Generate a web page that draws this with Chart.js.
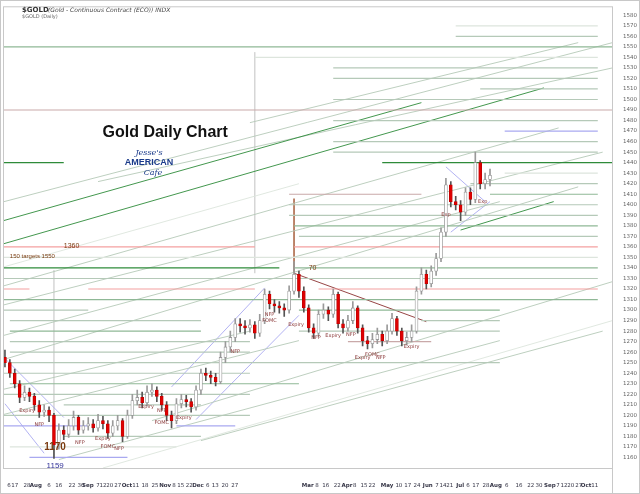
<!DOCTYPE html>
<html><head><meta charset="utf-8">
<script src="https://cdn.jsdelivr.net/npm/chart.js@4.4.0/dist/chart.umd.min.js"></script>
<style>html,body{margin:0;padding:0;background:#fff}#wrap{width:640px;height:494px}</style>
</head><body><div id="wrap"><canvas id="c" width="640" height="494"></canvas></div>
<script>
const closes=[1250,1240,1230,1217,1222,1218,1210,1203,1205,1200,1172,1186,1182,1190,1198,1186,1190,1192,1188,1195,1192,1183,1190,1195,1180,1200,1214,1217,1212,1222,1224,1218,1210,1200,1195,1211,1215,1213,1208,1224,1240,1238,1236,1232,1255,1265,1274,1287,1285,1283,1286,1278,1290,1315,1306,1304,1302,1300,1318,1334,1318,1302,1283,1278,1296,1300,1296,1315,1287,1283,1290,1302,1283,1271,1268,1272,1277,1271,1280,1292,1280,1271,1274,1280,1318,1334,1325,1337,1349,1374,1419,1403,1400,1393,1412,1405,1440,1420,1424,1428];
const highs=[1262,1253,1244,1233,1228,1226,1221,1214,1210,1208,1202,1192,1190,1196,1204,1200,1195,1198,1196,1201,1199,1195,1195,1200,1197,1205,1220,1224,1222,1228,1230,1227,1221,1213,1204,1216,1220,1219,1216,1228,1244,1245,1242,1240,1260,1270,1280,1292,1292,1290,1291,1289,1296,1320,1318,1310,1308,1306,1323,1346,1337,1322,1305,1287,1300,1306,1303,1320,1317,1291,1295,1308,1304,1286,1275,1278,1283,1280,1286,1297,1294,1283,1279,1286,1322,1340,1338,1342,1354,1378,1425,1422,1408,1404,1416,1416,1450,1442,1430,1434];
const lows=[1246,1236,1226,1212,1214,1213,1205,1198,1199,1194,1159,1168,1177,1179,1186,1182,1183,1186,1184,1185,1187,1178,1180,1186,1175,1178,1197,1210,1207,1209,1218,1213,1205,1195,1188,1192,1207,1208,1203,1205,1220,1233,1230,1228,1230,1250,1260,1270,1279,1277,1279,1273,1275,1287,1301,1298,1297,1294,1297,1315,1312,1298,1279,1273,1275,1292,1290,1293,1283,1278,1280,1287,1278,1266,1263,1264,1268,1266,1268,1277,1276,1266,1267,1270,1278,1315,1320,1322,1333,1346,1370,1398,1395,1385,1390,1400,1402,1415,1415,1418];
const firstOpen=1255;
const yTicks=[1160,1170,1180,1190,1200,1210,1220,1230,1240,1250,1260,1270,1280,1290,1300,1310,1320,1330,1340,1350,1360,1370,1380,1390,1400,1410,1420,1430,1440,1450,1460,1470,1480,1490,1500,1510,1520,1530,1540,1550,1560,1570,1580];
const xTickPos=[0.8,2,4.5,6.3,9,11,13.7,15.5,16.9,19,20,21.4,23,24.9,26.7,28.6,30.6,32.7,34.5,35.9,37.6,39.4,41.4,42.9,44.9,46.9,61.8,63.7,65.5,67.8,69.8,71.4,73.3,74.9,78,80.4,82.2,84.1,86.3,88.2,89.4,90.8,92.9,94.5,96.1,98.2,100.2,102.4,104.9,107.3,109,111.2,112.9,114.1,115.5,117.1,118.6,120.4];
const xTickLabels=['6','17','28','Aug','6','16','22','30','Sep','7','12','20','27','Oct','11','18','25','Nov','8','15','22','Dec','6','13','20','27','Mar','8','16','22','Apr','8','15','22','May','10','17','24','Jun','7','14','21','Jul','6','17','28','Aug','6','16','22','30','Sep','7','12','20','27','Oct','11'];
const hLines=[[1570,92,121,'lt'],[1560,92,121,'gg'],[1550,-1,124,'g'],[1540,51,121,'lt'],[1530,67,121,'gg'],[1520,67,121,'gg'],[1510,97,121,'gg'],[1500,67,121,'gg'],[1490,-1,124,'br'],[1480,67,121,'gg'],[1470,102,121,'bl'],[1460,67,121,'gg'],[1450,67,121,'gg'],[1440,-1,12,'dg'],[1440,77,124,'dg'],[1430,102,121,'lt'],[1420,95,121,'gg'],[1410,58,85,'br'],[1410,99,121,'g'],[1400,58,121,'gg'],[1390,58,121,'gg'],[1380,59,121,'g'],[1370,60,121,'gg'],[1360,-1,51,'rd'],[1360,59,121,'rd'],[1350,-1,121,'lt'],[1340,-1,56,'dg'],[1340,59,121,'g'],[1330,-1,121,'gg'],[1320,-1,5,'rd'],[1320,17,51,'rd'],[1320,64,121,'rd'],[1310,-1,121,'g'],[1300,-1,17,'gg'],[1300,60,101,'g'],[1290,1,40,'gg'],[1290,85,101,'gg'],[1280,1,40,'g'],[1280,60,101,'gg'],[1270,1,50,'gg'],[1270,70,87,'br'],[1260,1,50,'gg'],[1250,1,101,'gg'],[1240,-1,50,'gg'],[1230,1,60,'g'],[1220,-1,50,'gg'],[1210,12,40,'gg'],[1200,-1,50,'gg'],[1190,-1,17,'bl'],[1190,35,47,'bl'],[1180,12,40,'gg'],[1170,1,35,'lt'],[1160,5,25,'bl']];
const diagLines=[[-1,1362,110,1511,'dg'],[-1,1384,85,1497,'dg'],[93,1376,112,1403,'dg'],[-1,1322,113,1473,'gg'],[-1,1304,122,1450,'gg'],[-1,1275,101,1403,'gg'],[-1,1252,117,1417,'gg'],[11,1158,101,1271,'gg'],[30,1195,124,1327,'gg'],[40,1176,122,1280,'gg'],[-1,1402,124,1554,'gg'],[19,1422,124,1530,'gg'],[50,1478,117,1554,'gg'],[-1,1224,50,1280,'gg'],[-1,1200,60,1271,'gg'],[-1,1340,60,1420,'lt'],[20,1150,124,1290,'lt'],
 [0,1254,12,1198,'bl'],[0,1211,8,1164,'bl'],[34,1227,53,1321,'bl'],[39,1196,60,1295,'bl'],[90,1436,98,1403,'bl'],[91,1374,99,1403,'bl'],
 [59,1335,86,1289,'mr'],[59,1335,59,1406,'brv'],[51,1335,51,1545,'gv'],[10,1160,10,1338,'gv']];
const notes=[[4.5,1204,'Expiry'],[7,1191,'NFP'],[15.3,1174,'NFP'],[20,1178,'Expiry'],[21,1170,'FOMC'],[23.3,1168,'NFP'],[28.8,1208,'Expiry'],[32,1204,'NFP'],[32,1193,'FOMC'],[36.5,1198,'Expiry'],[47,1260,'NFP'],[54,1296,'NFP'],[54,1290,'FOMC'],[59.4,1286,'Expiry'],[63.5,1274,'NFP'],[67,1276,'Expiry'],[70.6,1277,'NFP'],[73,1255,'Expiry'],[75,1258,'FOMC'],[76.7,1255,'NFP'],[83,1265,'Expiry'],[90,1391,'Exp'],[97.5,1403,'Exp']];
const bigLabels=[[8,1170,'1170','#7a3b10',10,'bold'],[8.5,1152,'1159','#333399',8,'normal'],[12,1361,'1360','#7a3b10',7,'normal'],[1,1351,'150 targets 1550','#7a3b10',6,'normal'],[62,1340,'70','#7a3b10',7,'normal']];
const monthNames=['Aug','Sep','Oct','Nov','Dec','Mar','Apr','May','Jun','Jul'];

const colors={lt:'#dde5dd',gg:'#b5c9b8',g:'#8fb896',dg:'#2e8b3a',br:'#c9a9a9',bl:'#a9a9f0',rd:'#f4a0a0',mr:'#8b3030',brv:'#a0522d',gv:'#bbbbbb'};
const opens=closes.map((c,i)=>i===0?firstOpen:closes[i-1]);
const up=closes.map((c,i)=>c>=opens[i]);
const datasets=[];
hLines.forEach(h=>datasets.push({type:'line',data:[{x:h[1],y:h[0]},{x:h[2],y:h[0]}],borderColor:colors[h[3]],borderWidth:1.2,pointRadius:0,order:3}));
diagLines.forEach(d=>datasets.push({type:'line',data:[{x:d[0],y:d[1]},{x:d[2],y:d[3]}],borderColor:colors[d[4]],borderWidth:(d[4]==='brv')?1.4:0.9,pointRadius:0,order:3}));
datasets.push({type:'bar',data:closes.map((c,i)=>({x:i,y:[lows[i],highs[i]]})),backgroundColor:up.map(u=>u?'#9a9a9a':'#555'),barThickness:1,grouped:false,order:2});
datasets.push({type:'bar',data:closes.map((c,i)=>({x:i,y:[Math.min(opens[i],c),Math.max(opens[i],c)+0.01]})),backgroundColor:up.map(u=>u?'#ffffff':'#e00000'),borderColor:up.map(u=>u?'#999':'#c00000'),borderWidth:0.8,borderSkipped:false,barThickness:3,grouped:false,order:1});

const textPlugin={id:'texts',afterDraw(ch){const c=ch.ctx,xs=ch.scales.x,ys=ch.scales.y;c.save();
 c.strokeStyle='#c8c8c8';c.lineWidth=1;c.strokeRect(0.5,0.5,639,493);
 c.strokeRect(ch.chartArea.left+0.5,ch.chartArea.top+0.5,ch.chartArea.width,ch.chartArea.height);
 c.beginPath();c.moveTo(ch.chartArea.right+0.5,ch.chartArea.bottom);c.lineTo(ch.chartArea.right+0.5,493);c.stroke();
 c.textBaseline='middle';c.textAlign='left';
 c.font='bold 7px "DejaVu Sans"';c.fillStyle='#333';c.fillText('$GOLD',22,10);
 c.font='italic 6px "DejaVu Sans"';c.fillStyle='#444';c.fillText('(Gold - Continuous Contract (ECO)) INDX',48,10);
 c.font='5px "DejaVu Sans"';c.fillStyle='#666';c.fillText('$GOLD (Daily)',22,17);
 notes.forEach(n=>{c.font='5px "DejaVu Sans"';c.fillStyle='#8b3a3a';c.textAlign='center';c.fillText(n[2],xs.getPixelForValue(n[0]),ys.getPixelForValue(n[1]));});
 bigLabels.forEach(b=>{c.font=b[5]+' '+b[4]+'px "Liberation Sans"';c.fillStyle=b[3];c.textAlign='left';c.fillText(b[2],xs.getPixelForValue(b[0]),ys.getPixelForValue(b[1]));});
 c.textAlign='center';c.font='bold 16px "Liberation Sans"';c.fillStyle='#111';
 c.fillText('Gold Daily Chart',xs.getPixelForValue(32.7),ys.getPixelForValue(1469));
 const lx=xs.getPixelForValue(29.4),ly=ys.getPixelForValue(1440);
 c.font='italic 8px "DejaVu Serif"';c.fillStyle='#1a3a8a';c.fillText("Jesse's",lx,ly-10);
 c.font='bold 9px "Liberation Sans"';c.fillStyle='#1a3a8a';c.fillText('AMERICAN',lx,ly);
 c.font='italic 8px "DejaVu Serif"';c.fillText('Cafe',lx+4,ly+10);
 c.restore();}};

new Chart(document.getElementById('c'),{data:{datasets},plugins:[textPlugin],
options:{responsive:false,animation:false,layout:{padding:{left:3,top:3,right:0,bottom:0}},
plugins:{legend:{display:false},tooltip:{enabled:false}},
scales:{
 x:{type:'linear',offset:false,min:-0.4,max:123.9,grid:{display:false},border:{display:false},
  afterBuildTicks:s=>{s.ticks=xTickPos.map(v=>({value:v}));},
  afterFit:s=>{s.height=26;},
  ticks:{autoSkip:false,maxRotation:0,color:'#334',padding:6,
   font:c=>({size:5.5,family:'DejaVu Sans',weight:monthNames.includes(xTickLabels[c.index])?'bold':'normal'}),
   callback:(v,i)=>xTickLabels[i]}},
 y:{position:'right',min:1150,max:1588.5,grid:{display:false},border:{display:false},
  afterBuildTicks:s=>{s.ticks=yTicks.map(v=>({value:v}));},
  afterFit:s=>{s.width=28;},
  ticks:{font:{size:5.5,family:'DejaVu Sans'},color:'#666',padding:3,callback:v=>String(v)}}
}}});
</script></body></html>
